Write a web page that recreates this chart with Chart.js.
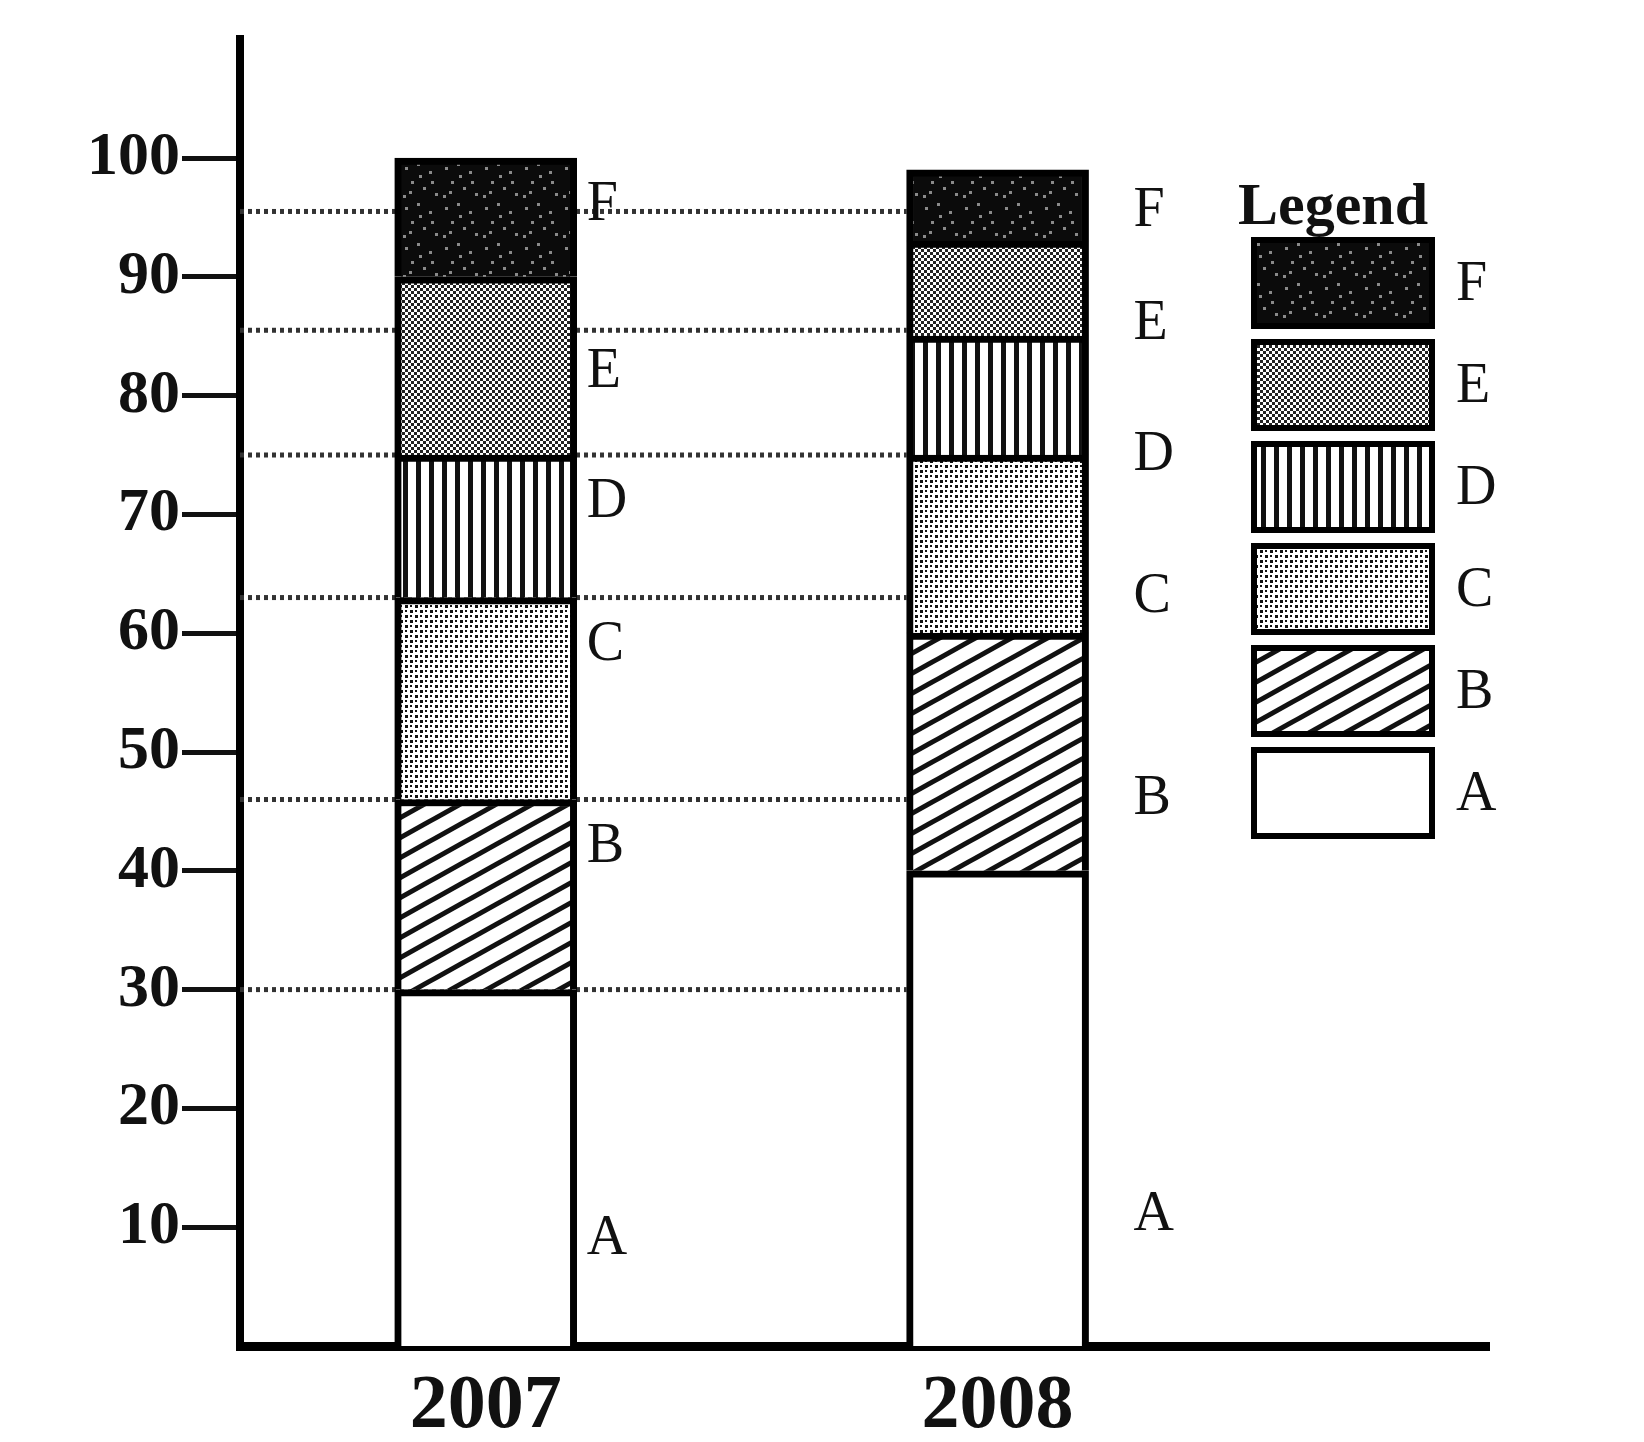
<!DOCTYPE html>
<html><head><meta charset="utf-8">
<style>html,body{margin:0;padding:0;background:#fff;} canvas{display:block;}</style>
<script src="https://cdn.jsdelivr.net/npm/chart.js@4.4.1/dist/chart.umd.min.js"></script>
</head><body>
<canvas id="c" width="1644" height="1442"></canvas>
<script>
// ---- data ----
const years = [2007, 2008];
const seriesNames = ['A', 'B', 'C', 'D', 'E', 'F'];
const seriesA = [30, 40];
const seriesB = [16, 20];
const seriesC = [17, 15];
const seriesD = [12, 10];
const seriesE = [15, 8];
const seriesF = [10, 6];
const yTickValues = [10, 20, 30, 40, 50, 60, 70, 80, 90, 100];
const referenceLevels = [30, 46, 63, 75, 85.5, 95.5];
const labelLevels2007 = [9, 42, 59, 71, 82, 96];
const labelLevels2008 = [11, 46, 63, 75, 86, 95.5];
const legendTitle = 'Legend';

const seriesValues = [seriesA, seriesB, seriesC, seriesD, seriesE, seriesF];
const labelLevels = [labelLevels2007, labelLevels2008];

Chart.defaults.font.family = "'Liberation Serif', 'Times New Roman', serif";
Chart.defaults.color = '#111';

const canvas = document.getElementById('c');
const mainCtx = canvas.getContext('2d');

function makeTile(w, h, draw) {
  const t = document.createElement('canvas');
  t.width = w; t.height = h;
  const g = t.getContext('2d');
  draw(g, w, h);
  return mainCtx.createPattern(t, 'repeat');
}

const patA = '#ffffff';
const patB = makeTile(36, 20, (g, w, h) => {
  g.fillStyle = '#fff'; g.fillRect(0, 0, w, h);
  g.strokeStyle = '#111'; g.lineWidth = 5;
  for (let k = -1; k <= 1; k++) {
    g.beginPath();
    g.moveTo(-w, 2 * h + k * h);
    g.lineTo(2 * w, -h + k * h);
    g.stroke();
  }
});
const patC = makeTile(10, 10, (g, w, h) => {
  g.fillStyle = '#fff'; g.fillRect(0, 0, w, h);
  g.fillStyle = '#111';
  g.fillRect(0, 0, 3, 3);
  g.fillRect(5, 5, 3, 3);
  g.fillRect(5, 0, 2, 2);
  g.fillRect(0, 5, 2, 2);
});
const patD = makeTile(13, 4, (g, w, h) => {
  g.fillStyle = '#fff'; g.fillRect(0, 0, w, h);
  g.fillStyle = '#111'; g.fillRect(0, 0, 5, h);
});
const patE = makeTile(6, 6, (g, w, h) => {
  g.fillStyle = '#fff'; g.fillRect(0, 0, w, h);
  g.fillStyle = '#222';
  g.fillRect(0, 0, 3, 3);
  g.fillRect(3, 3, 3, 3);
});
const patF = makeTile(40, 40, (g, w, h) => {
  g.fillStyle = '#0b0b0b'; g.fillRect(0, 0, w, h);
  g.fillStyle = '#8a8a8a';
  [[5,7],[17,3],[29,11],[11,21],[23,27],[35,33],[3,35],[31,21],[19,15],[9,31]].forEach(p => g.fillRect(p[0], p[1], 3, 3));
});
const patterns = [patA, patB, patC, patD, patE, patF];

const datasets = seriesValues.map((vals, i) => ({
  label: seriesNames[i],
  data: years.map((yr, j) => ({ x: yr, y: vals[j] })),
  backgroundColor: patterns[i],
  borderColor: '#000',
  borderWidth: 7,
  borderSkipped: 'start',
  barThickness: 182
}));

const refLinesPlugin = {
  id: 'refLines',
  beforeDatasetsDraw(chart) {
    const ctx = chart.ctx;
    const el = chart.getDatasetMeta(0).data[1];
    const xEnd = el.x - el.width / 2;
    const y = chart.scales.y;
    ctx.save();
    ctx.strokeStyle = '#333';
    ctx.lineWidth = 5;
    ctx.setLineDash([4, 4]);
    referenceLevels.forEach(v => {
      const py = y.getPixelForValue(v);
      ctx.beginPath();
      ctx.moveTo(chart.chartArea.left, py);
      ctx.lineTo(xEnd, py);
      ctx.stroke();
    });
    ctx.restore();
  }
};

const segmentLabelPlugin = {
  id: 'segLabels',
  afterDatasetsDraw(chart) {
    const ctx = chart.ctx;
    const y = chart.scales.y;
    const gaps = [10, 45];
    ctx.save();
    ctx.fillStyle = '#111';
    ctx.font = "56px 'Liberation Serif', serif";
    ctx.textAlign = 'left';
    ctx.textBaseline = 'middle';
    seriesNames.forEach((name, i) => {
      const meta = chart.getDatasetMeta(i);
      years.forEach((yr, j) => {
        const el = meta.data[j];
        ctx.fillText(name, el.x + el.width / 2 + gaps[j], y.getPixelForValue(labelLevels[j][i]));
      });
    });
    ctx.restore();
  }
};

const boxLegendPlugin = {
  id: 'boxLegend',
  afterDraw(chart) {
    const ctx = chart.ctx;
    ctx.save();
    ctx.fillStyle = '#111';
    ctx.font = "bold 60px 'Liberation Serif', serif";
    ctx.textAlign = 'left';
    ctx.textBaseline = 'alphabetic';
    ctx.fillText(legendTitle, 1238, 224);
    const order = chart.data.datasets.map((d, i) => i).reverse();
    order.forEach((di, k) => {
      const ds = chart.data.datasets[di];
      const top = 240 + k * 102, left = 1254, w = 178, h = 86;
      ctx.fillStyle = ds.backgroundColor;
      ctx.fillRect(left, top, w, h);
      ctx.strokeStyle = '#000';
      ctx.lineWidth = 6;
      ctx.strokeRect(left, top, w, h);
      ctx.fillStyle = '#111';
      ctx.font = "56px 'Liberation Serif', serif";
      ctx.textBaseline = 'middle';
      ctx.fillText(ds.label, 1456, top + h / 2 + 2);
    });
    ctx.restore();
  }
};

new Chart(canvas, {
  type: 'bar',
  data: { datasets },
  options: {
    responsive: false,
    animation: false,
    devicePixelRatio: 1,
    layout: { padding: { left: 0, right: 155, top: 34, bottom: 0 } },
    plugins: { legend: { display: false }, tooltip: { enabled: false } },
    scales: {
      x: {
        type: 'linear', stacked: true, offset: false,
        min: 2006.52, max: 2008.96,
        afterBuildTicks: s => { s.ticks = years.map(v => ({ value: v })); },
        afterFit: s => { s.height = 96; },
        ticks: { callback: v => String(v), font: { size: 76, weight: 'bold' }, color: '#111', padding: 16, autoSkip: false, maxRotation: 0 },
        grid: { display: false, drawTicks: false },
        border: { display: true, width: 9, color: '#000' }
      },
      y: {
        type: 'linear', stacked: true, min: 0, max: 110,
        afterBuildTicks: s => { s.ticks = yTickValues.map(v => ({ value: v })); },
        afterFit: s => { s.width = 240; },
        ticks: { font: { size: 62, weight: 'bold' }, color: '#111', padding: 2 },
        grid: { drawOnChartArea: false, drawTicks: true, tickLength: 58, tickWidth: 5, tickColor: '#111' },
        border: { width: 8, color: '#000' }
      }
    }
  },
  plugins: [refLinesPlugin, segmentLabelPlugin, boxLegendPlugin]
});
</script>
</body></html>
